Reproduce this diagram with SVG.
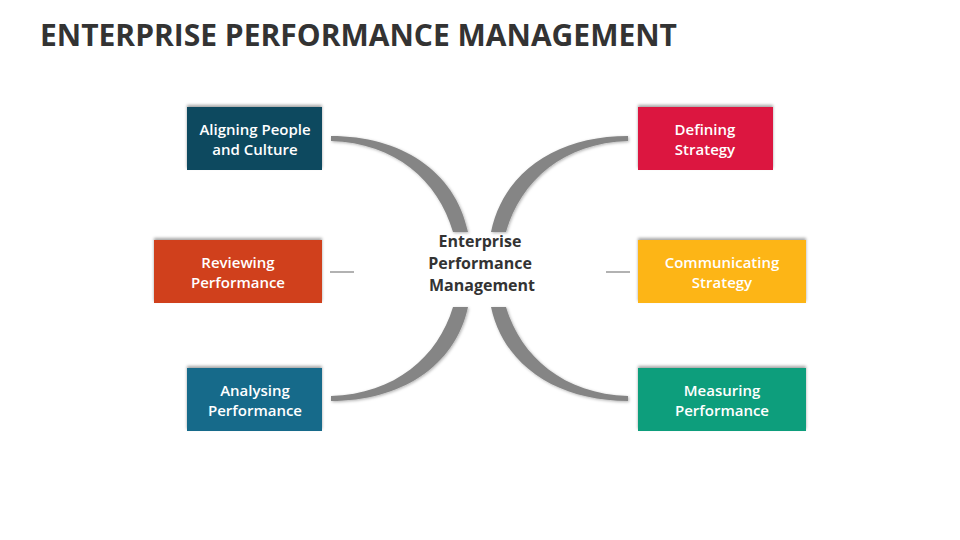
<svg xmlns="http://www.w3.org/2000/svg" width="960" height="540" viewBox="0 0 960 540">
<defs>
<filter id="sh" x="-10%" y="-20%" width="120%" height="140%"><feDropShadow dx="0" dy="-2" stdDeviation="1.5" flood-color="#000" flood-opacity="0.35"/></filter>
<filter id="sh2" x="-10%" y="-10%" width="120%" height="120%"><feDropShadow dx="1" dy="1" stdDeviation="1.5" flood-color="#000" flood-opacity="0.3"/></filter>
</defs>
<style>
.t{font-family:"Open Sans","Liberation Sans",sans-serif;font-size:15px;fill:#fff;text-anchor:middle;font-weight:600}
.c{font-family:"Open Sans","Liberation Sans",sans-serif;font-size:16px;fill:#333;text-anchor:middle;font-weight:700}
.arc{fill:#858585;filter:url(#sh2)}
</style>
<rect width="960" height="540" fill="#fff"/>
<text x="40" y="46" font-family="'Open Sans','Liberation Sans',sans-serif" font-weight="700" font-size="30" fill="#333">ENTERPRISE PERFORMANCE MANAGEMENT</text>
<g id="connectors">
<path class="arc" d="M331,136 C400,136 455,170 468,232 L453,232 C438,180 395,143 331,141 Z"/>
<path class="arc" d="M331,401 C400,401 455,367 468,307 L453,307 C438,357 395,394 331,396 Z"/>
<path class="arc" d="M628,136 C559,136 504,170 491,232 L506,232 C521,180 564,143 628,141 Z"/>
<path class="arc" d="M628,401 C559,401 504,367 491,307 L506,307 C521,357 564,394 628,396 Z"/>
<line x1="330" y1="272" x2="354" y2="272" stroke="#999" stroke-width="1.5"/>
<line x1="606" y1="272" x2="630" y2="272" stroke="#999" stroke-width="1.5"/>
</g>
<g id="center"><text class="c" x="480" y="247">Enterprise</text><text class="c" x="480" y="269">Performance</text><text class="c" x="482" y="291">Management</text></g>
<g id="n1"><rect x="187" y="107" width="135" height="63" fill="#0b4a5e" filter="url(#sh)"/><text class="t" x="255" y="135">Aligning People</text><text class="t" x="255" y="155">and Culture</text></g>
<g id="n2"><rect x="154" y="240" width="168" height="63" fill="#d0411d" filter="url(#sh)"/><text class="t" x="238" y="268">Reviewing</text><text class="t" x="238" y="288">Performance</text></g>
<g id="n3"><rect x="187" y="368" width="135" height="63" fill="#136a8a" filter="url(#sh)"/><text class="t" x="255" y="396">Analysing</text><text class="t" x="255" y="416">Performance</text></g>
<g id="n4"><rect x="638" y="107" width="135" height="63" fill="#dc1541" filter="url(#sh)"/><text class="t" x="705" y="135">Defining</text><text class="t" x="705" y="155">Strategy</text></g>
<g id="n5"><rect x="638" y="240" width="168" height="63" fill="#fdb515" filter="url(#sh)"/><text class="t" x="722" y="268">Communicating</text><text class="t" x="722" y="288">Strategy</text></g>
<g id="n6"><rect x="638" y="368" width="168" height="63" fill="#079e7b" filter="url(#sh)"/><text class="t" x="722" y="396">Measuring</text><text class="t" x="722" y="416">Performance</text></g>
</svg>
